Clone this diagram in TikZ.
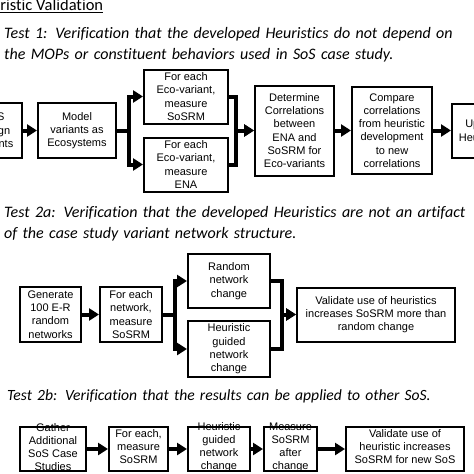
\documentclass[tikz,border=0pt]{standalone}
\usepackage{fontspec}
\setmainfont{Liberation Sans}
\newfontfamily\headfont[Ligatures=NoCommon]{Carlito}
\usetikzlibrary{arrows.meta,positioning}
\newcommand{\flowtext}[4][0pt]{\parbox[c][#3][c]{#2}{\centering\vspace*{#1}#4}}
\tikzset{
  flowbox/.style={draw, line width=2pt, inner sep=0pt,
    font=\fontsize{11}{13.3}\selectfont},
  lowbox/.style={flowbox, font=\fontsize{11}{13}\selectfont},
  testhead/.style={anchor=base west, text width=520pt, align=left, inner sep=0pt,
    font=\headfont\itshape\fontsize{16}{21}\selectfont},
  arrw/.style={-{Triangle[length=10pt,width=12pt]}, line width=4pt},
}
\begin{document}
\begin{tikzpicture}[x=1pt, y=-1pt]
  \useasboundingbox (0,0) rectangle (474,474);

  % Title
  \node[anchor=base west, inner sep=0pt, font=\headfont\fontsize{16.5}{19}\selectfont]
    (title) at (-27,10.7) {\underline{Heuristic Validation}};

  % Test 1
  \node[testhead] (head1) at (4,38.3)
    {Test 1: Verification that the developed Heuristics do not depend on\\
     the MOPs or constituent behaviors used in SoS case study.};

  \node[flowbox, anchor=east] (t1a) at (23,130.5)
    {\flowtext{56pt}{55pt}{SoS\\design\\variants}};
  \node[flowbox, right=14pt of t1a] (t1b)
    {\flowtext{78pt}{55pt}{Model\\variants as\\Ecosystems}};
  \node[flowbox, anchor=west] (t1c) at (143,96.5)
    {\flowtext{84pt}{54pt}{For each\\Eco-variant,\\measure\\SoSRM}};
  \node[flowbox, anchor=west] (t1d) at (143,164.5)
    {\flowtext{84pt}{54pt}{For each\\Eco-variant,\\measure\\ENA}};
  \node[flowbox, anchor=west] (t1e) at (254,130.5)
    {\flowtext{79pt}{90pt}{Determine\\Correlations\\between\\ENA and\\SoSRM for\\Eco-variants}};
  \node[flowbox, right=16pt of t1e] (t1f)
    {\flowtext{80pt}{87pt}{Compare\\correlations\\from heuristic\\development\\to new\\correlations}};
  \node[flowbox, right=18pt of t1f] (t1g)
    {\flowtext{62pt}{54pt}{Update\\Heuristics}};

  \draw[arrw] (t1a) -- (t1b);
  \draw[arrw] (t1b.east) -- ++(11.5,0) |- (t1c.west);
  \draw[arrw] (t1b.east) -- ++(11.5,0) |- (t1d.west);
  \draw[arrw] (t1c.east) -- ++(7,0) |- (t1e.west);
  \draw[arrw] (t1d.east) -- ++(7,0) |- (t1e.west);
  \draw[arrw] (t1e) -- (t1f);
  \draw[arrw] (t1f) -- (t1g);

  % Test 2a
  \node[testhead] (head2a) at (4,217)
    {Test 2a: Verification that the developed Heuristics are not an artifact\\
     of the case study variant network structure.};

  \node[flowbox, anchor=west] (t2a) at (19,314.5)
    {\flowtext{61pt}{55pt}{Generate\\100 E-R\\random\\networks}};
  \node[flowbox, right=17pt of t2a] (t2b)
    {\flowtext{62pt}{55pt}{For each\\network,\\measure\\SoSRM}};
  \node[flowbox, anchor=west] (t2c) at (187,281)
    {\flowtext{82pt}{54pt}{Random\\network\\change}};
  \node[flowbox, anchor=west] (t2d) at (187,349)
    {\flowtext{82pt}{56pt}{Heuristic\\guided\\network\\change}};
  \node[flowbox, anchor=west] (t2e) at (296,314.5)
    {\flowtext{158pt}{54pt}{Validate use of heuristics\\increases SoSRM more than\\random change}};

  \draw[arrw] (t2a) -- (t2b);
  \draw[arrw] (t2b.east) -- ++(11.5,0) |- (t2c.west);
  \draw[arrw] (t2b.east) -- ++(11.5,0) |- (t2d.west);
  \draw[arrw] (t2c.east) -- ++(11,0) |- (t2e.west);
  \draw[arrw] (t2d.east) -- ++(11,0) |- (t2e.west);

  % Test 2b
  \node[testhead, font=\headfont\itshape\fontsize{15.6}{21}\selectfont] (head2b) at (7,400)
    {Test 2b: Verification that the results can be applied to other SoS.};

  \node[lowbox, anchor=west] (t3a) at (19,449)
    {\flowtext[-4pt]{66pt}{44pt}{Gather\\Additional\\SoS Case\\Studies}};
  \node[lowbox, right=21pt of t3a] (t3b)
    {\flowtext[-4pt]{59pt}{44pt}{For each,\\measure\\SoSRM}};
  \node[lowbox, right=18pt of t3b] (t3c)
    {\flowtext[-4pt]{62pt}{44pt}{Heuristic\\guided\\network\\change}};
  \node[lowbox, right=12pt of t3c] (t3d)
    {\flowtext[-4pt]{53pt}{44pt}{Measure\\SoSRM\\after\\change}};
  \node[lowbox, right=27pt of t3d] (t3e)
    {\flowtext[-4pt]{118pt}{44pt}{Validate use of\\heuristic increases\\SoSRM for new SoS}};

  \draw[arrw] (t3a) -- (t3b);
  \draw[arrw] (t3b) -- (t3c);
  \draw[arrw] (t3c) -- (t3d);
  \draw[arrw] (t3d) -- (t3e);
\end{tikzpicture}
\end{document}
